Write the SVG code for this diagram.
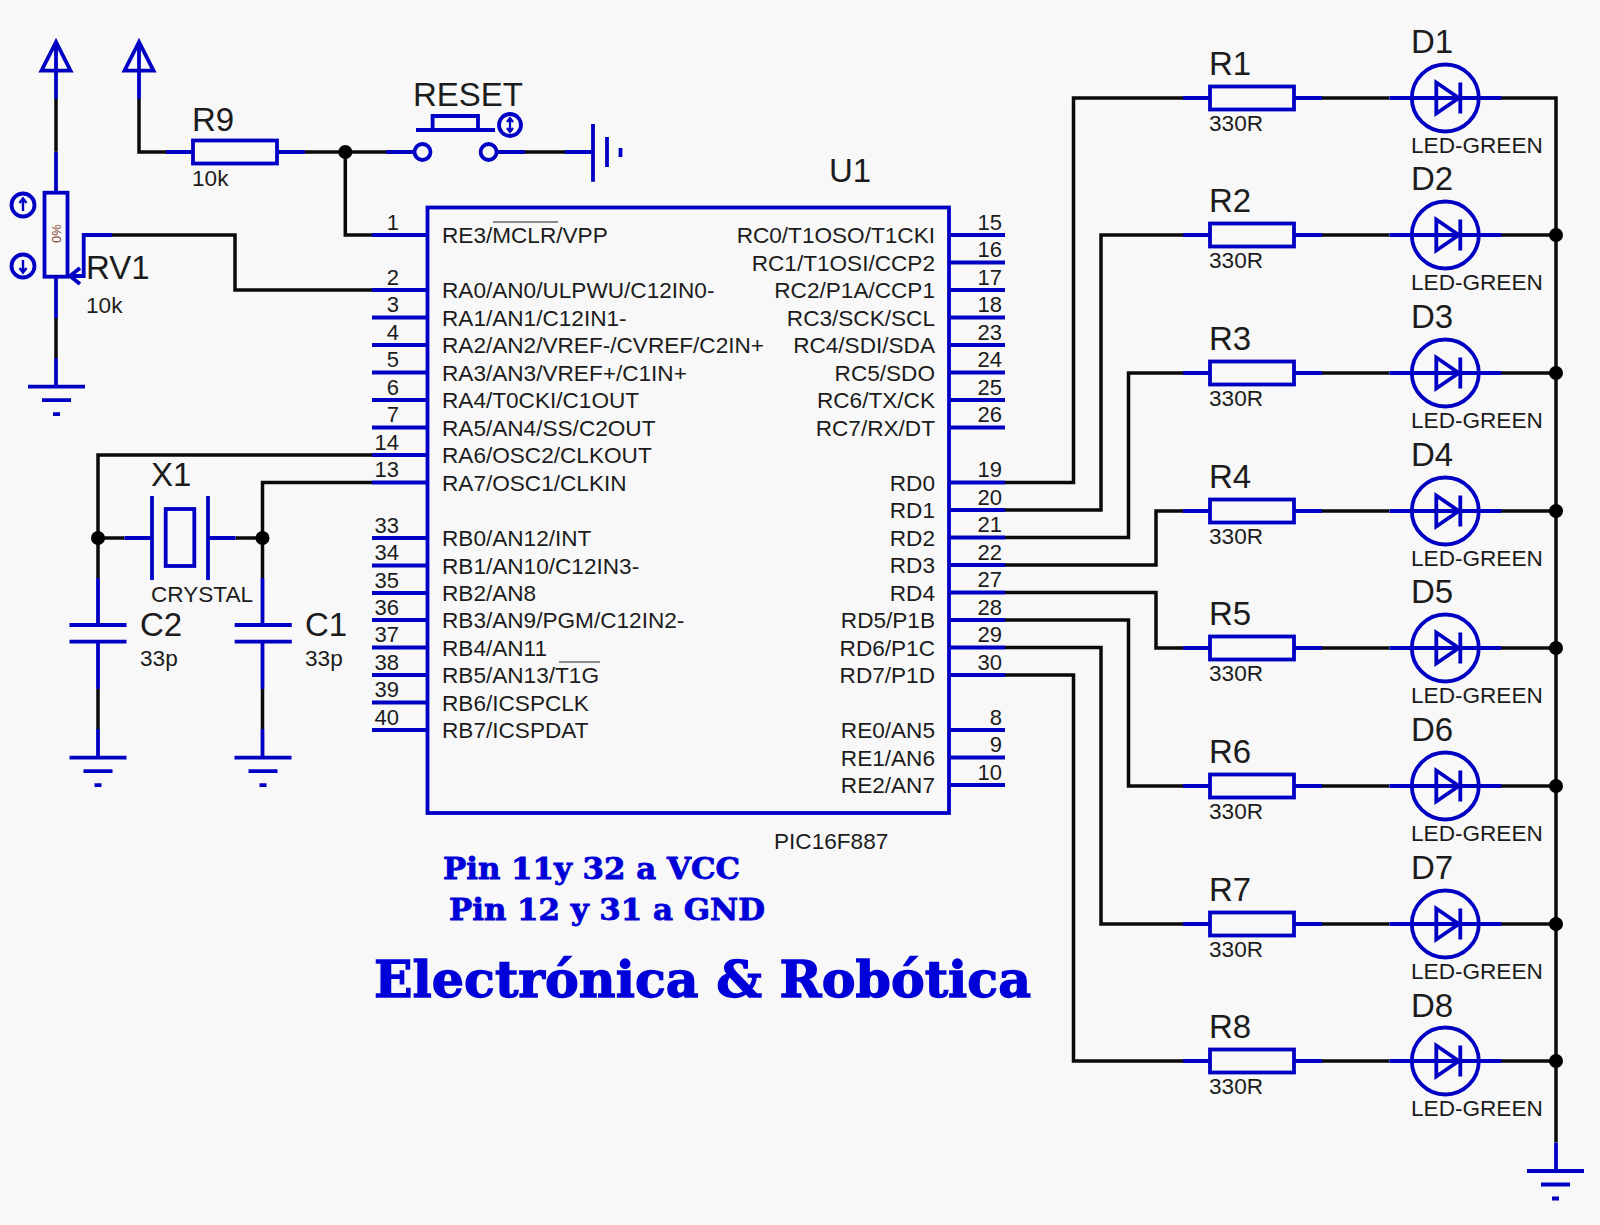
<svg xmlns="http://www.w3.org/2000/svg" width="1600" height="1225" viewBox="0 0 1600 1225">
<style>
.b{fill:none;stroke:#0000c4;stroke-width:3.8;stroke-linejoin:miter}
.w{fill:none;stroke:#0a0a0a;stroke-width:3.5;stroke-linejoin:miter}
.j{fill:#000;stroke:none}
text{font-family:"Liberation Sans",Arial,sans-serif;fill:#1c1c1c;font-size:22.6px}
.n{font-size:33px}
.p{font-size:22px;text-anchor:end}
.pr{text-anchor:end}
.o{fill:none;stroke:#1c1c1c;stroke-width:1.2}
.t{font-family:"DejaVu Serif","Liberation Serif",serif;font-weight:700;fill:#0000d8;stroke:#0000d8}
</style>
<defs>
<g id="gnd"><path class="b" d="M-28.500 0H28.500M-14.500 13.500H14.500M-3.500 27.500H3.500"/></g>
<g id="vcc"><path class="b" d="M0 0L-14.500 28.700H14.500ZM0 0V29"/></g>
<g id="res"><path class="b" d="M-27 0H0M84 0H112"/><rect class="b" x="0" y="-11.500" width="84" height="23"/></g>
<g id="led"><circle class="b" cx="0" cy="0" r="33.500"/><path class="b" d="M-56 0H56M-9 -15.500L13.500 0L-9 15.500Z"/><path class="b" d="M15 -15.500V15.500"/></g>
</defs>
<rect width="1600" height="1225" fill="#f8f8f8"/>

<g id="connectors">
<path class="w" d="M56 99V151.700M56 318V358"/>
<path class="w" d="M139 99V152H166M304 152H386M525 152H565"/>
<path class="w" d="M345.300 152V235H372"/>
<path class="w" d="M112 235H235V290H372"/>
<path class="w" d="M372 455H98V578M98 689V729M98 538H124.500"/>
<path class="w" d="M372 482.500H262.500V578M262.500 689V729M262.500 538H235.500"/>
<path class="w" d="M1005 482.500H1073.500V98H1183"/>
<path class="w" d="M1005 510H1101V235H1183"/>
<path class="w" d="M1005 537.500H1128.500V373H1183"/>
<path class="w" d="M1005 565H1156V511H1183"/>
<path class="w" d="M1005 592.500H1156V648H1183"/>
<path class="w" d="M1005 620H1128.500V786H1183"/>
<path class="w" d="M1005 647.500H1101V924H1183"/>
<path class="w" d="M1005 675H1073.500V1061H1183"/>
<path class="w" d="M1322 98H1389M1322 235H1389M1322 373H1389M1322 511H1389M1322 648H1389M1322 786H1389M1322 924H1389M1322 1061H1389"/>
<path class="w" d="M1501 98H1556V1142.500M1501 235H1556M1501 373H1556M1501 511H1556M1501 648H1556M1501 786H1556M1501 924H1556M1501 1061H1556"/>
<circle class="j" cx="345.300" cy="152" r="7"/>
<circle class="j" cx="98" cy="538" r="7"/>
<circle class="j" cx="262.500" cy="538" r="7"/>
<circle class="j" cx="1556" cy="235" r="7"/>
<circle class="j" cx="1556" cy="373" r="7"/>
<circle class="j" cx="1556" cy="511" r="7"/>
<circle class="j" cx="1556" cy="648" r="7"/>
<circle class="j" cx="1556" cy="786" r="7"/>
<circle class="j" cx="1556" cy="924" r="7"/>
<circle class="j" cx="1556" cy="1061" r="7"/>
</g>

<g id="U1">
<rect class="b" x="427.500" y="207.500" width="521.500" height="605.500"/>
<path class="b" d="M372 235H427.500M372 290H427.500M372 317.500H427.500M372 345H427.500M372 372.500H427.500M372 400H427.500M372 427.500H427.500M372 455H427.500M372 482.500H427.500M372 538H427.500M372 565.500H427.500M372 593H427.500M372 620H427.500M372 647.500H427.500M372 675H427.500M372 702.500H427.500M372 730H427.500"/>
<path class="b" d="M949 235H1005M949 262.500H1005M949 290H1005M949 317.500H1005M949 345H1005M949 372.500H1005M949 400H1005M949 427.500H1005M949 482.500H1005M949 510H1005M949 537.500H1005M949 565H1005M949 592.500H1005M949 620H1005M949 647.500H1005M949 675H1005M949 730H1005M949 757.500H1005M949 785H1005"/>
<text class="n" x="829" y="182">U1</text>
<text x="774" y="849">PIC16F887</text>
<g transform="translate(0,-1)">
<text class="p" x="399" y="230.500">1</text>
<text class="p" x="399" y="285.500">2</text>
<text class="p" x="399" y="313">3</text>
<text class="p" x="399" y="340.500">4</text>
<text class="p" x="399" y="368">5</text>
<text class="p" x="399" y="395.500">6</text>
<text class="p" x="399" y="423">7</text>
<text class="p" x="399" y="450.500">14</text>
<text class="p" x="399" y="478">13</text>
<text class="p" x="399" y="533.500">33</text>
<text class="p" x="399" y="561">34</text>
<text class="p" x="399" y="588.500">35</text>
<text class="p" x="399" y="615.500">36</text>
<text class="p" x="399" y="643">37</text>
<text class="p" x="399" y="670.500">38</text>
<text class="p" x="399" y="698">39</text>
<text class="p" x="399" y="725.500">40</text>
<text class="p" x="1002" y="230.500">15</text>
<text class="p" x="1002" y="258">16</text>
<text class="p" x="1002" y="285.500">17</text>
<text class="p" x="1002" y="313">18</text>
<text class="p" x="1002" y="340.500">23</text>
<text class="p" x="1002" y="368">24</text>
<text class="p" x="1002" y="395.500">25</text>
<text class="p" x="1002" y="423">26</text>
<text class="p" x="1002" y="478">19</text>
<text class="p" x="1002" y="505.500">20</text>
<text class="p" x="1002" y="533">21</text>
<text class="p" x="1002" y="560.500">22</text>
<text class="p" x="1002" y="588">27</text>
<text class="p" x="1002" y="615.500">28</text>
<text class="p" x="1002" y="643">29</text>
<text class="p" x="1002" y="670.500">30</text>
<text class="p" x="1002" y="725.500">8</text>
<text class="p" x="1002" y="753">9</text>
<text class="p" x="1002" y="780.500">10</text>
</g>
<text x="442" y="243">RE3/MCLR/VPP</text>
<path class="o" d="M493 222H558M559 662H600"/>
<text x="442" y="298">RA0/AN0/ULPWU/C12IN0-</text>
<text x="442" y="325.500">RA1/AN1/C12IN1-</text>
<text x="442" y="353">RA2/AN2/VREF-/CVREF/C2IN+</text>
<text x="442" y="380.500">RA3/AN3/VREF+/C1IN+</text>
<text x="442" y="408">RA4/T0CKI/C1OUT</text>
<text x="442" y="435.500">RA5/AN4/SS/C2OUT</text>
<text x="442" y="463">RA6/OSC2/CLKOUT</text>
<text x="442" y="490.500">RA7/OSC1/CLKIN</text>
<text x="442" y="546">RB0/AN12/INT</text>
<text x="442" y="573.500">RB1/AN10/C12IN3-</text>
<text x="442" y="601">RB2/AN8</text>
<text x="442" y="628">RB3/AN9/PGM/C12IN2-</text>
<text x="442" y="655.500">RB4/AN11</text>
<text x="442" y="683">RB5/AN13/T1G</text>
<text x="442" y="710.500">RB6/ICSPCLK</text>
<text x="442" y="738">RB7/ICSPDAT</text>
<text class="pr" x="935" y="243">RC0/T1OSO/T1CKI</text>
<text class="pr" x="935" y="270.500">RC1/T1OSI/CCP2</text>
<text class="pr" x="935" y="298">RC2/P1A/CCP1</text>
<text class="pr" x="935" y="325.500">RC3/SCK/SCL</text>
<text class="pr" x="935" y="353">RC4/SDI/SDA</text>
<text class="pr" x="935" y="380.500">RC5/SDO</text>
<text class="pr" x="935" y="408">RC6/TX/CK</text>
<text class="pr" x="935" y="435.500">RC7/RX/DT</text>
<text class="pr" x="935" y="490.500">RD0</text>
<text class="pr" x="935" y="518">RD1</text>
<text class="pr" x="935" y="545.500">RD2</text>
<text class="pr" x="935" y="573">RD3</text>
<text class="pr" x="935" y="600.500">RD4</text>
<text class="pr" x="935" y="628">RD5/P1B</text>
<text class="pr" x="935" y="655.500">RD6/P1C</text>
<text class="pr" x="935" y="683">RD7/P1D</text>
<text class="pr" x="935" y="738">RE0/AN5</text>
<text class="pr" x="935" y="765.500">RE1/AN6</text>
<text class="pr" x="935" y="793">RE2/AN7</text>
</g>

<g id="RV1">
<use href="#vcc" x="56" y="42"/>
<path class="b" d="M56 70V99M56 151.700V192.700M56 276.700V318M56 358V386.700"/>
<rect class="b" x="44.500" y="192.700" width="23" height="84"/>
<use href="#gnd" x="56.500" y="386.700"/>
<path class="b" d="M112 235H83.700V276H70M80 268L70 276L80 284"/>
<circle class="b" cx="23" cy="205" r="11.500"/>
<path class="b" d="M23 211V199M19.500 203L23 198.500L26.500 203" style="stroke-width:2.400"/>
<circle class="b" cx="23" cy="266" r="11.500"/>
<path class="b" d="M23 260V272M19.500 268L23 272.500L26.500 268" style="stroke-width:2.400"/>
<text transform="translate(60.500,243) rotate(-90)" style="font-size:13px;fill:#8a4a3a">0%</text>
<text class="n" x="86" y="279">RV1</text>
<text x="86" y="313">10k</text>
</g>

<g id="VCC2"><use href="#vcc" x="139" y="42"/><path class="b" d="M139 70V99"/></g>

<g id="R9">
<use href="#res" x="193" y="152"/>
<text class="n" x="192" y="131">R9</text>
<text x="192" y="186">10k</text>
</g>

<g id="RESET">
<path class="b" d="M386 152H414M497 152H525M416 130H495M432.600 130V116H478V130"/>
<circle class="b" cx="422.500" cy="152" r="8"/>
<circle class="b" cx="488.600" cy="152" r="8"/>
<circle class="b" cx="510" cy="125" r="11"/>
<path class="b" d="M510 119V131M507 122L510 118L513 122M507 128L510 132L513 128" style="stroke-width:2.200"/>
<text class="n" x="413" y="106">RESET</text>
</g>

<g id="GND-RESET">
<path class="b" d="M565 152H593M593 124V181.700M607 137V167M620.500 148V157"/>
</g>

<g id="X1">
<path class="b" d="M124.500 538H152M208 538H235.500M152 496V580M208 496V580"/>
<rect class="b" x="165.700" y="509" width="28.600" height="57"/>
<text class="n" x="151" y="486">X1</text>
<text x="151" y="602">CRYSTAL</text>
</g>

<g id="C2">
<path class="b" d="M98 578V625M69.500 625H126.500M69.500 641.700H126.500M98 641.700V689M98 729V757.700"/>
<use href="#gnd" x="98" y="757.700"/>
<text class="n" x="140" y="636">C2</text>
<text x="140" y="666">33p</text>
</g>

<g id="C1">
<path class="b" d="M262.500 578V625M234.700 625H291.800M234.700 641.700H291.800M262.500 641.700V689M262.500 729V757.700"/>
<use href="#gnd" x="263" y="757.700"/>
<text class="n" x="305" y="636">C1</text>
<text x="305" y="666">33p</text>
</g>

<g id="R1"><use href="#res" x="1210" y="98"/><text class="n" x="1209" y="75">R1</text><text x="1209" y="130.500">330R</text></g>
<g id="R2"><use href="#res" x="1210" y="235"/><text class="n" x="1209" y="212">R2</text><text x="1209" y="267.500">330R</text></g>
<g id="R3"><use href="#res" x="1210" y="373"/><text class="n" x="1209" y="350">R3</text><text x="1209" y="405.500">330R</text></g>
<g id="R4"><use href="#res" x="1210" y="511"/><text class="n" x="1209" y="488">R4</text><text x="1209" y="543.500">330R</text></g>
<g id="R5"><use href="#res" x="1210" y="648"/><text class="n" x="1209" y="625">R5</text><text x="1209" y="680.500">330R</text></g>
<g id="R6"><use href="#res" x="1210" y="786"/><text class="n" x="1209" y="763">R6</text><text x="1209" y="818.500">330R</text></g>
<g id="R7"><use href="#res" x="1210" y="924"/><text class="n" x="1209" y="901">R7</text><text x="1209" y="956.500">330R</text></g>
<g id="R8"><use href="#res" x="1210" y="1061"/><text class="n" x="1209" y="1038">R8</text><text x="1209" y="1093.500">330R</text></g>

<g id="D1"><use href="#led" x="1445.300" y="98"/><text class="n" x="1411" y="53">D1</text><text x="1411" y="153">LED-GREEN</text></g>
<g id="D2"><use href="#led" x="1445.300" y="235"/><text class="n" x="1411" y="190">D2</text><text x="1411" y="290">LED-GREEN</text></g>
<g id="D3"><use href="#led" x="1445.300" y="373"/><text class="n" x="1411" y="328">D3</text><text x="1411" y="428">LED-GREEN</text></g>
<g id="D4"><use href="#led" x="1445.300" y="511"/><text class="n" x="1411" y="465.500">D4</text><text x="1411" y="566">LED-GREEN</text></g>
<g id="D5"><use href="#led" x="1445.300" y="648"/><text class="n" x="1411" y="603">D5</text><text x="1411" y="703">LED-GREEN</text></g>
<g id="D6"><use href="#led" x="1445.300" y="786"/><text class="n" x="1411" y="740.500">D6</text><text x="1411" y="841">LED-GREEN</text></g>
<g id="D7"><use href="#led" x="1445.300" y="924"/><text class="n" x="1411" y="878.500">D7</text><text x="1411" y="979">LED-GREEN</text></g>
<g id="D8"><use href="#led" x="1445.300" y="1061"/><text class="n" x="1411" y="1016.500">D8</text><text x="1411" y="1116">LED-GREEN</text></g>

<g id="GND-LED"><path class="b" d="M1556 1142.500V1171"/><use href="#gnd" x="1555.500" y="1171"/></g>

<g id="notes">
<text class="t" x="443" y="879" style="font-size:29px;stroke-width:.8" textLength="297" lengthAdjust="spacingAndGlyphs">Pin 11y 32 a VCC</text>
<text class="t" x="449" y="920" style="font-size:29px;stroke-width:.8" textLength="316" lengthAdjust="spacingAndGlyphs">Pin 12 y 31 a GND</text>
<text class="t" x="374" y="997" style="font-size:51px;stroke-width:1.300" textLength="657" lengthAdjust="spacingAndGlyphs">Electrónica &amp; Robótica</text>
</g>
</svg>
